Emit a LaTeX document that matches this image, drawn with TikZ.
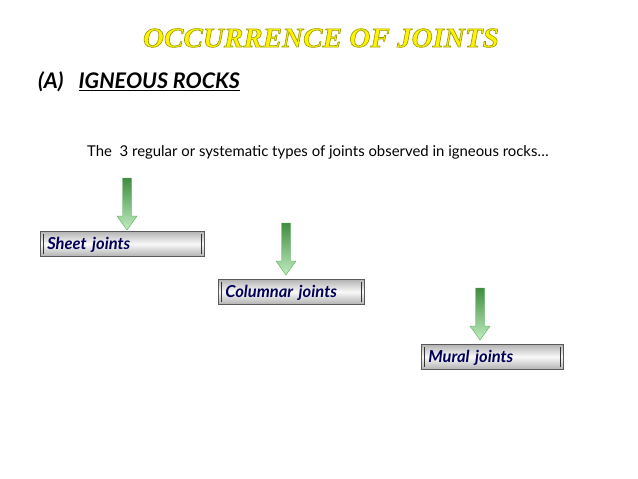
\documentclass[tikz,border=0pt]{standalone}
\usepackage{fontspec}
\setmainfont{Lato}
\newfontfamily\titlefont{Liberation Serif}
\tikzset{
 jbox/.style={draw=gray!70!black, line width=0.6pt, top color=gray!60, bottom color=gray!60, middle color=gray!5,
   minimum height=25pt, inner sep=4pt, anchor=north west, text=blue!35!black,
   font=\fontsize{16.5}{18}\selectfont\bfseries\itshape, text depth=0pt, align=left},
 jarrow/.style={draw=green!35!gray, line width=0.4pt, top color=green!40!black!75, bottom color=green!20!white!85!gray}
}
\begin{document}
\begin{tikzpicture}[x=1pt,y=-1pt]
\useasboundingbox (0,0) rectangle (638,479);
\node[font=\titlefont\fontsize{28}{30}\selectfont\bfseries\itshape, text=yellow, draw=none, xscale=1.04] (title) at (321,38)
 {\special{pdf:code 2 Tr 0.6 w 0.6 0.6 0 RG}OCCURRENCE OF JOINTS\special{pdf:code 0 Tr}};
\node[anchor=west, font=\fontsize{21.5}{23}\selectfont\bfseries\itshape, inner sep=0pt] (hdr) at (38,82)
 {(A)\hspace{0.7em}\underline{IGNEOUS ROCKS}};
\node[anchor=west, font=\fontsize{14.9}{16}\selectfont, inner sep=0pt] (intro) at (87,152)
 {The\ \ 3 regular or systematic types of joints observed in igneous rocks\ldots};
\node[jbox, minimum width=164pt, text width=150pt] (b1) at (40,231) {Sheet joints};
\node[jbox, minimum width=146pt, text width=132pt] (b2) at (218,279) {Columnar joints};
\node[jbox, minimum width=142pt, text width=128pt] (b3) at (421,344) {Mural joints};
\foreach \b in {b1,b2,b3}{
 \draw[gray!40!black, line width=0.9pt] ([xshift=3pt,yshift=-3pt]\b.north west) -- ([xshift=3pt,yshift=3pt]\b.south west);
 \draw[gray!40!black, line width=0.9pt] ([xshift=-3pt,yshift=-3pt]\b.north east) -- ([xshift=-3pt,yshift=3pt]\b.south east);
}
\coordinate (a1) at (127,178);
\coordinate (a2) at (286,223);
\coordinate (a3) at (480,288);
\foreach \a in {a1,a2,a3}{
 \path[jarrow] ([xshift=-4.5pt]\a) -- ([xshift=4.5pt]\a) -- ([xshift=4.5pt,yshift=-38pt]\a) -- ([xshift=10pt,yshift=-38pt]\a)
   -- ([yshift=-52pt]\a) -- ([xshift=-10pt,yshift=-38pt]\a) -- ([xshift=-4.5pt,yshift=-38pt]\a) -- cycle;
}
\end{tikzpicture}
\end{document}
